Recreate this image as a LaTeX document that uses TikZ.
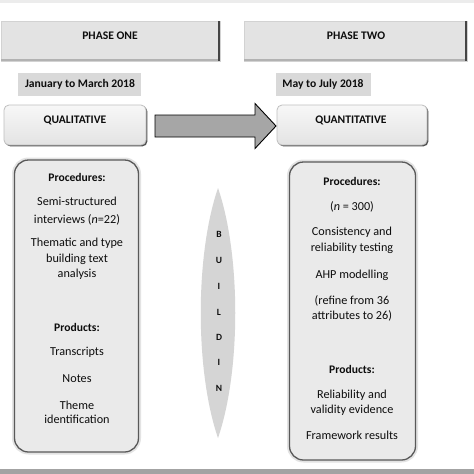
\documentclass[tikz,border=0pt]{standalone}
\usepackage{fontspec}
\setmainfont{Carlito}
\usetikzlibrary{shadows}
\definecolor{phasefill}{HTML}{E3E3E3}
\definecolor{datefill}{HTML}{D9D9D9}
\definecolor{arrowfill}{HTML}{A6A6A6}
\definecolor{panelfill}{HTML}{EAEAEA}
\definecolor{lensfill}{HTML}{D5D5D5}
\definecolor{bandgray}{HTML}{A3A3A3}
\definecolor{edgedark}{HTML}{454545}
\definecolor{txtcol}{HTML}{0D0D0D}
\tikzset{
  txt/.style={font=\fontsize{12.2}{14}\selectfont, text=txtcol, inner sep=0pt, text height=8pt, text depth=2.6pt, anchor=center},
  btxt/.style={txt, font=\fontsize{11.6}{14}\selectfont\bfseries},
  lettertxt/.style={txt, font=\fontsize{9.5}{10}\selectfont\bfseries},
  phasebox/.style={rectangle, fill=phasefill, draw=gray!35, line width=0.8pt, outer sep=0pt, inner sep=0pt},
  datebox/.style={rectangle, fill=datefill, outer sep=0pt, inner sep=0pt},
  methodbox/.style={rectangle, rounded corners=5pt, top color=gray!6, bottom color=gray!22, draw=gray!50, line width=0.8pt, outer sep=0pt, inner sep=0pt,
     general shadow={fill=gray!65!black, shadow xshift=1.4pt, shadow yshift=-1.4pt}},
  panelbox/.style={rectangle, rounded corners=14pt, fill=panelfill, draw=gray!70!black, line width=1.3pt, outer sep=0pt, inner sep=0pt,
     preaction={draw=gray!22, line width=5pt}},
  blockarrow/.style={fill=arrowfill, draw=black, line width=0.9pt, line join=miter},
}
\begin{document}
\begin{tikzpicture}[x=1pt,y=-1pt]
\useasboundingbox (0,0) rectangle (474,474);
\fill[white] (0,0) rectangle (474,474);
\fill[gray!15] (0,0) rectangle (474,3);
\fill[bandgray] (0,469) rectangle (474,474);

% phase boxes
\node[phasebox, minimum width=219pt, minimum height=40pt] (p1) at (110.5,41) {};
\draw[edgedark, line width=2pt] ([xshift=-1pt]p1.north east) -- ([xshift=-1pt]p1.south east);
\draw[gray!60, line width=1.6pt] ([yshift=0.8pt]p1.south west) -- ([yshift=0.8pt,xshift=-2pt]p1.south east);
\node[btxt] (p1t) at (110,37) {PHASE ONE};

\node[phasebox, minimum width=223pt, minimum height=40pt] (p2) at (355.5,41) {};
\draw[edgedark, line width=2pt] ([xshift=-1pt]p2.north east) -- ([xshift=-1pt]p2.south east);
\draw[gray!60, line width=1.6pt] ([yshift=0.8pt]p2.south west) -- ([yshift=0.8pt,xshift=-2pt]p2.south east);
\node[btxt] (p2t) at (356,37) {PHASE TWO};

% date labels
\node[datebox, minimum width=123pt, minimum height=23pt] (d1) at (79.5,84.5) {};
\node[btxt] (d1t) at (80,85) {January to March 2018};
\node[datebox, minimum width=95pt, minimum height=23pt] (d2) at (323.5,84.5) {};
\node[btxt] (d2t) at (323,85) {May to July 2018};

% method boxes
\node[methodbox, minimum width=142pt, minimum height=40pt] (qual) at (75,125) {};
\node[btxt] (qualt) at (75,121) {QUALITATIVE};
\node[methodbox, minimum width=150pt, minimum height=40pt] (quant) at (352,125) {};
\node[btxt] (quantt) at (351,121) {QUANTITATIVE};

% block arrow
\draw[blockarrow] (155,115) -- (255,115) -- (255,103.5) -- (276,126) -- (255,148.5) -- (255,137) -- (155,137) -- cycle;

% lower panels
\node[panelbox, minimum width=124pt, minimum height=292pt] (left) at (76.5,306) {};
\node[panelbox, minimum width=126pt, minimum height=298pt] (right) at (352.5,311) {};

% left panel text
\node[btxt] (l1) at (77,179) {Procedures:};
\node[txt] (l2) at (77,203) {Semi-structured};
\node[txt] (l3) at (77,221) {interviews (\textit{n}=22)};
\node[txt] (l4) at (77,244) {Thematic and type};
\node[txt] (l5) at (77,260) {building text};
\node[txt] (l6) at (77,275) {analysis};
\node[btxt] (l7) at (77,329) {Products:};
\node[txt] (l8) at (77,353) {Transcripts};
\node[txt] (l9) at (77,380) {Notes};
\node[txt] (l10) at (77,407) {Theme};
\node[txt] (l11) at (77,421) {identification};

% right panel text
\node[btxt] (r1) at (352,183) {Procedures:};
\node[txt] (r2) at (352,208) {(\textit{n} = 300)};
\node[txt] (r3) at (352,233) {Consistency and};
\node[txt] (r4) at (352,249) {reliability testing};
\node[txt] (r5) at (352,276) {AHP modelling};
\node[txt] (r6) at (352,302) {(refine from 36};
\node[txt] (r7) at (352,317) {attributes to 26)};
\node[btxt] (r8) at (352,371) {Products:};
\node[txt] (r9) at (352,396) {Reliability and};
\node[txt] (r10) at (352,411) {validity evidence};
\node[txt] (r11) at (352,437) {Framework results};

% building lens
\fill[lensfill] (218,188) .. controls (241,255) and (241,371) .. (218,438) .. controls (195,371) and (195,255) .. (218,188);
\node[lettertxt] (b1) at (219,235) {B};
\node[lettertxt] (b2) at (219,261) {U};
\node[lettertxt] (b3) at (219,287) {I};
\node[lettertxt] (b4) at (219,313) {L};
\node[lettertxt] (b5) at (219,338) {D};
\node[lettertxt] (b6) at (219,363) {I};
\node[lettertxt] (b7) at (219,389) {N};
\end{tikzpicture}
\end{document}
